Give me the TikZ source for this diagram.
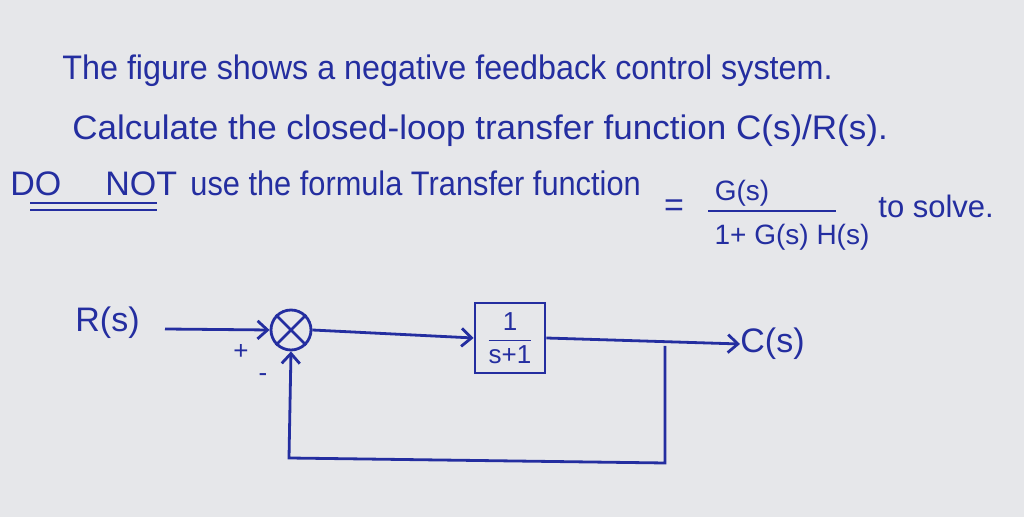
\documentclass[tikz,border=0pt]{standalone}
\usepackage{fontspec}
\setmainfont{Liberation Sans}
\usetikzlibrary{arrows.meta}
\definecolor{ink}{RGB}{36,46,160}
\definecolor{paper}{RGB}{230,231,234}
\tikzset{
  txt/.style={text=ink, inner sep=0pt, font=\fontsize{17}{20}\selectfont},
  wire/.style={draw=ink, line width=1.4pt},
  barb/.style={-{Straight Barb[length=5pt,width=9pt,line width=1.4pt]}},
  sumnode/.style={circle, draw=ink, line width=1.4pt, minimum size=20pt, inner sep=0pt},
  blk/.style={draw=ink, line width=1.4pt, minimum width=35pt, minimum height=35pt, inner sep=0pt, text=ink}
}
\begin{document}
\begin{tikzpicture}[x=0.5pt,y=-0.5pt]
\useasboundingbox[fill=paper] (0,0) rectangle (1024,517);
% text
\node[txt, anchor=base west] (l1) at (62,80) {\scalebox{0.95}[1]{The figure shows a negative feedback control system.}};
\node[txt, anchor=base west] (l2) at (72,140) {\scalebox{1.03}[1]{Calculate the closed-loop transfer function C(s)/R(s).}};
\node[txt, anchor=base west] (do) at (10,196) {DO};
\node[txt, anchor=base west] (not) at (105,196) {NOT};
\coordinate (u1) at (30,203);
\coordinate (u2) at (157,203);
\coordinate (u3) at (30,210);
\coordinate (u4) at (157,210);
\draw[wire, line width=1.1pt] (u1) -- (u2);
\draw[wire, line width=1.1pt] (u3) -- (u4);
\node[txt, anchor=base west] (l3) at (190,196) {\scalebox{0.905}[1]{use the formula Transfer function}};
\node[txt, anchor=base] (eq) at (674,217) {=};
\node[txt, anchor=base, font=\fontsize{14}{16}\selectfont] (num) at (742,201) {G(s)};
\node[txt, anchor=base, font=\fontsize{14}{16}\selectfont] (den) at (792,245) {1+ G(s) H(s)};
\coordinate (fbl) at (708,211);
\coordinate (fbr) at (836,211);
\draw[wire, line width=1.1pt] (fbl) -- (fbr);
\node[txt, anchor=base west, font=\fontsize{15.5}{18}\selectfont] (ts) at (878,218) {to solve.};
% diagram
\node[txt, anchor=west] (R) at (75,323) {R(s)};
\node[sumnode] (sum) at (291,330) {};
\draw[wire] (sum.north west) -- (sum.south east) (sum.north east) -- (sum.south west);
\node[txt, font=\fontsize{13}{15}\selectfont] (plus) at (241,352) {+};
\node[txt, font=\fontsize{13}{15}\selectfont] (minus) at (263,378) {-};
\node[blk] (G) at (510,338) {\fontsize{13}{15}\selectfont$\displaystyle\frac{\mbox{1}}{\mbox{s+1}}$};
\node[txt, anchor=west] (C) at (740,344) {C(s)};
\coordinate (Rin) at (165,329);
\coordinate (tap) at (665,346);
\coordinate (fb1) at (665,463);
\coordinate (fb2) at (289,458);
\draw[wire, barb] (Rin) -- (sum.west);
\draw[wire, barb] (sum.east) -- (G.west);
\draw[wire, barb] (G.east) -- (C.west);
\draw[wire, barb] (tap) -- (fb1) -- (fb2) -- (sum.south);
\end{tikzpicture}
\end{document}
